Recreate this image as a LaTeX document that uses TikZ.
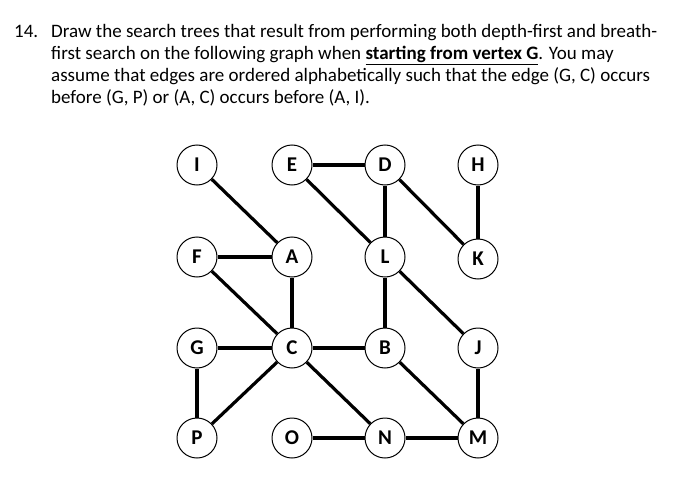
\documentclass[tikz,border=0pt]{standalone}
\usepackage{fontspec}
\setmainfont{Carlito}
\newcommand{\vl}[1]{{\fontsize{21}{21}\selectfont\bfseries #1}}
\begin{document}
\begin{tikzpicture}[x=1pt,y=-1pt,
  vtx/.style={circle,draw,line width=1pt,minimum size=40pt,inner sep=0pt},
  edge/.style={line width=3.2pt},
  txt/.style={anchor=base west,inner sep=0pt,font=\fontsize{19}{19}\selectfont}]
\useasboundingbox (0,0) rectangle (682,492);
\node[txt] (n) at (14,38) {14.};
\node[txt] (l1) at (51,38) {Draw the search trees that result from performing both depth-first and breath-};
\node[txt] (l2) at (51,60) {first search on the following graph when \textbf{\underline{starting from vertex G}}. You may};
\node[txt] (l3) at (51,82) {assume that edges are ordered alphabetically such that the edge (G, C) occurs};
\node[txt] (l4) at (51,104) {before (G, P) or (A, C) occurs before (A, I).};
\node[vtx] (I) at (197,165) {\vl{I}};
\node[vtx] (E) at (292,165) {\vl{E}};
\node[vtx] (D) at (385,165) {\vl{D}};
\node[vtx] (H) at (478,165) {\vl{H}};
\node[vtx] (F) at (197,257) {\vl{F}};
\node[vtx] (A) at (292,257) {\vl{A}};
\node[vtx] (L) at (385,257) {\vl{L}};
\node[vtx] (K) at (478,259) {\vl{K}};
\node[vtx] (G) at (197,348) {\vl{G}};
\node[vtx] (C) at (292,348) {\vl{C}};
\node[vtx] (B) at (385,348) {\vl{B}};
\node[vtx] (J) at (478,348) {\vl{J}};
\node[vtx] (P) at (197,438) {\vl{P}};
\node[vtx] (O) at (292,438) {\vl{O}};
\node[vtx] (N) at (385,438) {\vl{N}};
\node[vtx] (M) at (478,438) {\vl{M}};
\foreach \a/\b in {I/A,E/D,E/L,D/L,D/K,H/K,F/A,F/C,A/C,L/B,L/J,G/C,C/B,G/P,P/C,C/N,O/N,N/M,B/M,J/M}
  \draw[edge] (\a) -- (\b);
\end{tikzpicture}
\end{document}
